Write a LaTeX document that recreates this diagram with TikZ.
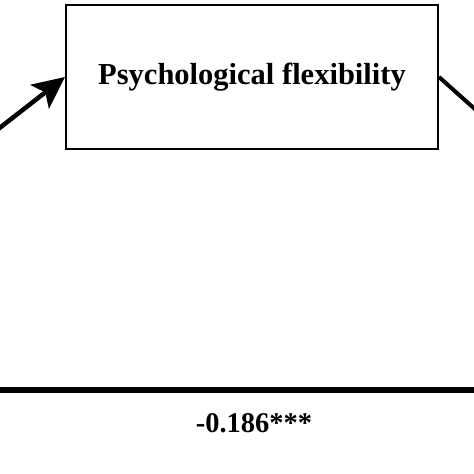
\documentclass[tikz,border=0pt]{standalone}
\usepackage{fontspec}
\setmainfont{Liberation Serif}
\usetikzlibrary{arrows.meta}
\begin{document}
\begin{tikzpicture}[x=1pt,y=1pt,
  varbox/.style={draw=black, line width=2pt, minimum width=372pt, minimum height=144pt, inner sep=0pt, font=\fontsize{30.5}{36}\selectfont\bfseries},
  pathline/.style={line width=4.5pt, draw=black},
  coef/.style={font=\fontsize{28.5}{34}\selectfont\bfseries}]
\useasboundingbox[fill=white] (0,0) rectangle (474,474);
\node[varbox] (pf) at (252,397) {Psychological flexibility};
\coordinate (lstart) at (-12,337);
\coordinate (rend) at (486,355);
\draw[pathline, -{Stealth[length=32pt,width=30pt,inset=7pt]}] (lstart) -- (pf.west);
\draw[pathline, line width=4pt] (pf.east) -- (rend);
\coordinate (hl) at (-5,84);
\coordinate (hr) at (480,84);
\draw[line width=5.5pt] (hl) -- (hr);
\node[coef] (c) at (254,51) {-0.186***};
\end{tikzpicture}
\end{document}
